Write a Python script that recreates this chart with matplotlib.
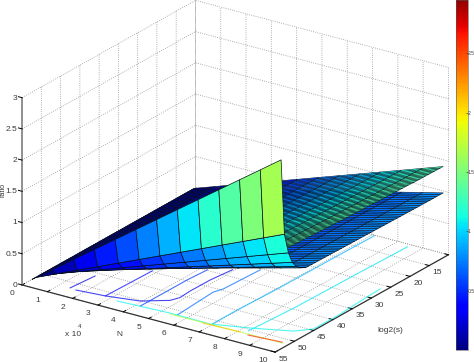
import numpy as np
import matplotlib
matplotlib.use("Agg")
import matplotlib.pyplot as plt
from matplotlib.colors import Normalize
from matplotlib.cm import ScalarMappable

plt.rcParams["font.family"] = ["Liberation Sans", "DejaVu Sans"]

W, H = 474, 362

N_grid = [0, 0.82, 1.64, 2.46, 3.28, 4.10, 4.92, 5.74, 6.56, 7.38, 8.20, 9.02, 9.84]

front_s = [52.4, 51.54, 50.5, 49.5, 48.5, 47.2, 46.0]
front_slope = [0.302, 0.178, 0.144, 0.125, 0.115, 0.108, 0.104]
front_tone = [0.183, 0.128, 0.122, 0.110, 0.100, 0.095, 0.092]

upper_s = [50.8, 50.05, 49.3, 48.55, 47.8, 47.05, 46.3, 45.55, 44.8, 44.05, 43.3, 42.55, 41.8, 41.05,
           40.3, 39.55, 38.8, 38.05, 37.3, 36.55, 35.8, 35.05, 34.3, 33.55, 32.8, 32.05, 31.3, 30.55,
           29.8, 29.05, 28.3, 27.55, 26.8, 26.05, 25.3, 24.55, 23.8, 23.05, 22.3, 21.55, 20.8, 20.05,
           19.3, 18.55, 17.8, 17.05, 16.3, 15.55, 14.8, 14.05, 13.3, 12.55, 11.8, 11.05, 10.3]
upper_slope = [0.1530, 0.1528, 0.1525, 0.1522, 0.1520, 0.1518, 0.1515, 0.1512, 0.1510, 0.1508, 0.1505,
               0.1502, 0.1500, 0.1498, 0.1495, 0.1492, 0.1490, 0.1488, 0.1485, 0.1482, 0.1480, 0.1479,
               0.1478, 0.1476, 0.1475, 0.1472, 0.1470, 0.1469, 0.1468, 0.1466, 0.1465, 0.1462, 0.1460,
               0.1459, 0.1458, 0.1456, 0.1455, 0.1452, 0.1450, 0.1449, 0.1448, 0.1446, 0.1445, 0.1442,
               0.1440, 0.1439, 0.1438, 0.1437, 0.1436, 0.1435, 0.1434, 0.1433, 0.1432, 0.1431, 0.1430]

lower_s = [46.0, 45.15, 44.3, 43.45, 42.6, 41.75, 40.9, 40.05, 39.2, 38.35, 37.5, 36.65, 35.8, 34.95,
           34.1, 33.25, 32.4, 31.55, 30.7, 29.85, 29.0, 28.15, 27.3, 26.45, 25.6, 24.75, 23.9, 23.05,
           22.2, 21.35, 20.5, 19.65, 18.8, 17.95, 17.1, 16.25, 15.4, 14.55, 13.7, 12.85, 12.0, 11.15, 10.3]
lower_slope = [0.1040, 0.1038, 0.1037, 0.1036, 0.1035, 0.1034, 0.1033, 0.1032, 0.1030, 0.1029, 0.1028,
               0.1027, 0.1026, 0.1025, 0.1024, 0.1023, 0.1022, 0.1021, 0.1020, 0.1019, 0.1018, 0.1017,
               0.1016, 0.1015, 0.1014, 0.1013, 0.1012, 0.1011, 0.1010, 0.1009, 0.1008, 0.1007, 0.1006,
               0.1005, 0.1004, 0.10035, 0.1003, 0.10025, 0.1002, 0.10015, 0.1001, 0.10005, 0.1000]
lower_tone = [0.086] * len(lower_s)

contour_levels = [0.25, 0.30, 0.40, 0.55, 0.70, 0.90, 1.05, 1.10, 1.70, 2.10, 2.60]
contour_N = [
    [1.43, 1.53],
    [1.69, 2.76, 3.94, 4.45, 4.71, 4.84, 4.80, 4.81, 4.92],
    [2.76, 2.82],
    [4.18, 4.19, 4.25],
    [5.60, 5.47, 5.59, 5.67],
    [6.97, 6.97, 7.04, 7.10],
    [8.27, 8.40, 8.46, 8.52],
    [3.32, 5.31, 6.92, 8.18, 8.79, 9.48, 9.92, 9.94, 9.83, 9.80],
    [5.36, 9.79],
    [6.68, 8.10],
    [8.46, 9.71],
]
contour_s = [
    [51.9, 46.1],
    [52.1, 51.5, 50.2, 48.4, 47.5, 45.8, 42.9, 37.7, 32.7],
    [51.5, 39.7],
    [51.8, 39.6, 34.8],
    [51.5, 41.3, 39.5, 30.4],
    [51.4, 44.9, 35.0, 10.2],
    [50.6, 39.5, 22.7, 10.9],
    [52.1, 51.5, 51.6, 49.5, 48.3, 46.9, 44.6, 38.5, 30.0, 26.4],
    [51.8, 51.5],
    [51.9, 51.6],
    [51.9, 51.3],
]

x_ticks = list(range(0, 11))
y_ticks = list(range(10, 60, 5))
y_ticklabels = [""] + [str(v) for v in y_ticks[1:]]
z_ticks = [0, 0.5, 1, 1.5, 2, 2.5, 3]
z_ticklabels = ["0", "0.5", "1", "1.5", "2", "2.5", "3"]
cbar_ticks = [0.5, 1, 1.5, 2, 2.5]
cbar_ticklabels = ["0.5", "1", "1.5", "2", "2.5"]

TXT = "#3a3a3a"
norm = Normalize(0, 3)
cmap = plt.get_cmap("jet")

fig = plt.figure(figsize=(W / 100, H / 100), dpi=100, facecolor="white")
S = 464.7
cx, cy = 229.0, 182.5
ax = fig.add_axes([(cx - S / 2) / W, (H - cy - S / 2) / H, S / W, S / H],
                  projection="3d", proj_type="ortho", computed_zorder=False)
ax.set_box_aspect((307, 306, 203))
ax.view_init(elev=22.7, azim=-55.5)
ax.set_xlim(0, 10, view_margin=0)
ax.set_ylim(55, 10, view_margin=0)
ax.set_zlim(0, 3, view_margin=0)
ax.patch.set_alpha(0)

for axis in (ax.xaxis, ax.yaxis, ax.zaxis):
    axis.set_pane_color((1, 1, 1, 0))
    axis.pane.set_edgecolor((1, 1, 1, 0))
    axis._axinfo["grid"].update(color="#969696", linewidth=0.6, linestyle=":")
    axis._axinfo["tick"].update(inward_factor=0.0, outward_factor=0.18, linewidth={True: 0.7, False: 0.5}, color="#222222")
    axis.line.set_color("#333333")
    axis.line.set_linewidth(0.9)
ax.zaxis.line.set_color("#777777")
ax.zaxis.line.set_linewidth(1.1)
ax.zaxis.set_ticks_position("upper")
ax.zaxis.set_label_position("upper")

ax.set_xticks(x_ticks)
ax.set_xticklabels([str(v) for v in x_ticks], fontsize=6, color=TXT, ha="right", va="bottom")
ax.set_yticks(y_ticks)
ax.set_yticklabels(y_ticklabels, fontsize=6, color=TXT, ha="left", va="top")
ax.set_zticks(z_ticks)
ax.set_zticklabels(z_ticklabels, fontsize=6, color=TXT, ha="right", va="center")
ax.tick_params(axis="x", pad=-0.5)
ax.tick_params(axis="y", pad=-5.5)
ax.tick_params(axis="z", pad=-6)

for lev, xs, ys in zip(contour_levels, contour_N, contour_s):
    ax.plot(xs, ys, [0] * len(xs), color=cmap(norm(lev)), linewidth=0.8, alpha=0.72, zorder=1)


def sheet(s_vals, slope, tone, zorder, lw):
    X, Y = np.meshgrid(N_grid, s_vals)
    Z = np.outer(slope, N_grid)
    C = np.outer(tone, N_grid)
    ax.plot_surface(X, Y, Z, rstride=1, cstride=1, facecolors=cmap(norm(C)), shade=False,
                    edgecolor="#08121e", linewidth=lw, zorder=zorder)


sheet(lower_s, lower_slope, lower_tone, 2, 0.4)
sheet(upper_s, upper_slope, upper_slope, 3, 0.35)
sheet(front_s, front_slope, front_tone, 4, 0.5)

fig.text(119 / W, 1 - 335 / H, "N", fontsize=6, color=TXT, ha="center", va="center")
fig.text(73 / W, 1 - 334 / H, "x 10", fontsize=6, color=TXT, ha="center", va="center")
fig.text(79.5 / W, 1 - 327 / H, "4", fontsize=4.5, color=TXT, ha="center", va="center")
fig.text(390 / W, 1 - 330 / H, "log2(s)", fontsize=6, color=TXT, ha="center", va="center")
fig.text(2.6 / W, 1 - 190 / H, "ratio", fontsize=5.2, color=TXT, ha="center", va="center", rotation=90)

cax = fig.add_axes([456 / W, (H - 350) / H, 11.5 / W, 350 / H])
cb = fig.colorbar(ScalarMappable(norm=norm, cmap=cmap), cax=cax)
cax.set_ylim(0, 2.95)
cb.set_ticks(cbar_ticks)
cb.set_ticklabels(cbar_ticklabels)
cax.tick_params(axis="y", direction="in", length=1.5, width=0.5, labelsize=3.6, pad=0.4, colors=TXT)
cb.outline.set_linewidth(0.4)
cb.outline.set_edgecolor("#555555")

fig.savefig("out.png", dpi=100)
